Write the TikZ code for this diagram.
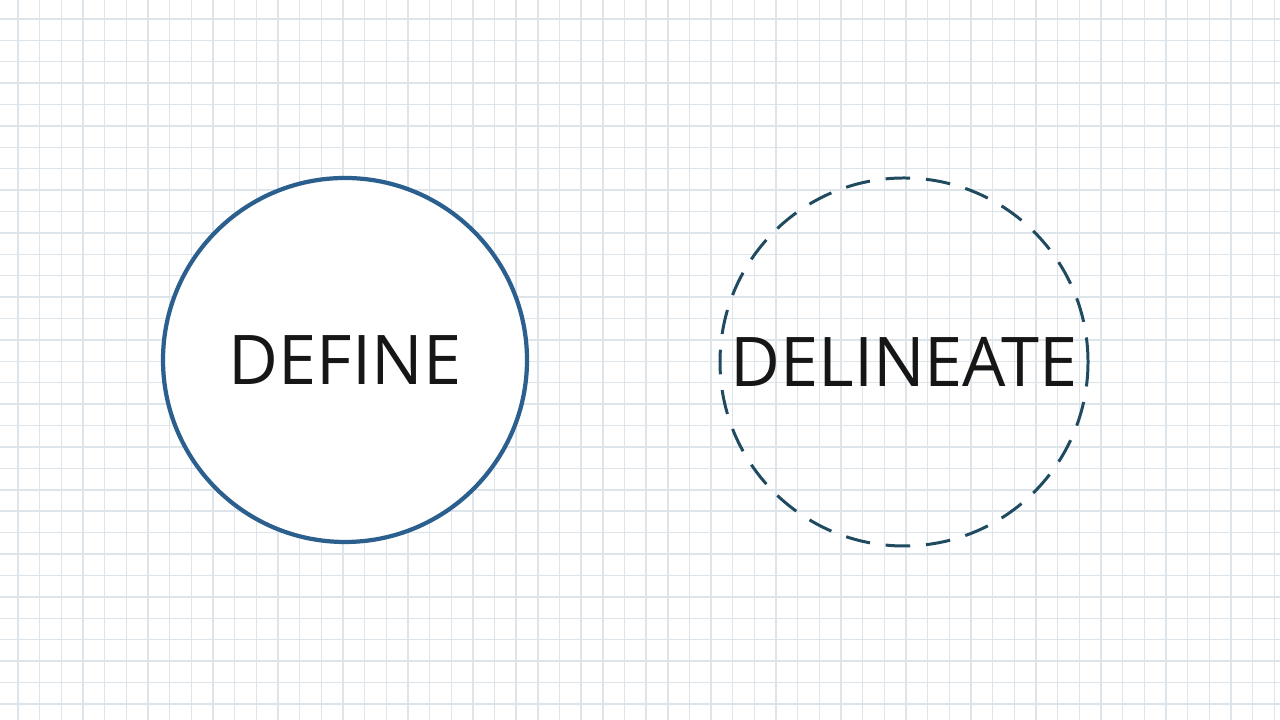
\documentclass[tikz,border=0pt]{standalone}
\usepackage{fontspec}
\setmainfont{Open Sans}
\definecolor{gridline}{HTML}{DEE5EA}
\definecolor{defblue}{HTML}{2B5F8E}
\definecolor{delteal}{HTML}{1F4A5F}
\definecolor{inkblack}{HTML}{161616}
\tikzset{
  gridrule/.style={gridline, line width=0.4pt},
  word/.style={circle, inner sep=0pt, minimum size=3.64cm, text=inkblack, font=\fontsize{19.5}{22}\selectfont}
}
\begin{document}
\begin{tikzpicture}

            \useasboundingbox[fill=white] (0, 0) rectangle (12.8, 7.2);

            % squared paper
            \foreach \i in {0,...,58}
                \draw[gridrule] (0.18 + \i*0.2166, 0) -- (0.18 + \i*0.2166, 7.2);
            \foreach \j in {0,...,32}
                \draw[gridrule] (0, 7.01 - \j*0.214) -- (12.8, 7.01 - \j*0.214);

            \node[word, draw=defblue, line width=1.2pt, fill=white] (define) at (3.45, 3.60) {DEFINE};
            \node[word, draw=delteal, line width=0.85pt, dash pattern=on 7pt off 4.5pt, minimum size=3.68cm] (delineate) at (9.04, 3.58) {DELINEATE};

        \end{tikzpicture}
\end{document}
